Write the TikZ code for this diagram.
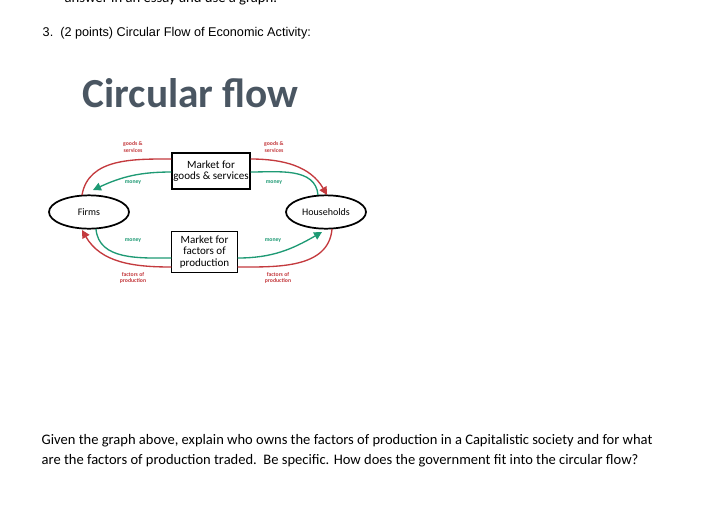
\documentclass[tikz,border=0pt]{standalone}
\usepackage{fontspec}
\setmainfont{Liberation Sans}
\newfontfamily\carl{Carlito}
\usetikzlibrary{shapes.geometric,arrows.meta}
\definecolor{cred}{HTML}{C43A3E}
\definecolor{cgreen}{HTML}{1E9A74}
\definecolor{ctitle}{HTML}{4A5662}
\begin{document}
\begin{tikzpicture}[x=0.75pt,y=-0.75pt,
  ell/.style={ellipse,draw,line width=1.3pt,minimum width=60pt,minimum height=25pt,inner sep=0pt,font=\carl\fontsize{7.5}{8}\selectfont},
  mbox/.style={draw,line width=0.8pt,align=center,inner sep=1pt,font=\carl\fontsize{8.3}{8.3}\selectfont},
  rl/.style={cred,line width=1pt},
  gl/.style={cgreen,line width=1pt},
  lab/.style={align=center,font=\carl\bfseries\fontsize{4.3}{4.6}\selectfont}]
\useasboundingbox (0,0) rectangle (712,504);
\clip (0,0) rectangle (712,504);
\fill[white] (0,0) rectangle (712,504);
\node[anchor=west,font=\carl\fontsize{11}{12}\selectfont] (top) at (60,-1) {answer in an essay and use a graph.};
\node[anchor=west,font=\fontsize{9.5}{11}\selectfont] (q) at (38,33) {3.\ \ (2 points) Circular Flow of Economic Activity:};
\node[anchor=west,font=\carl\bfseries\fontsize{31}{34}\selectfont,text=ctitle] (title) at (78,93) {Circular flow};
\node[ell] (firms) at (89,212) {Firms};
\node[ell] (hh) at (326,212) {Households};
\node[mbox,minimum width=58pt,minimum height=27pt] (mg) at (211,171) {Market for\\goods \& services};
\node[mbox,minimum width=49pt,minimum height=31pt] (mf) at (204.5,252) {Market for\\factors of\\production};
% top flows
\draw[rl] (mg.west|-0,159) to[out=180,in=80] (82,195);
\draw[rl,-{Triangle[width=6pt,length=6pt]}] (mg.east|-0,159) to[out=0,in=120] (327,195);
\draw[gl,-{Triangle[width=6pt,length=6pt]}] (mg.west|-0,172) to[out=180,in=25] (93,190);
\draw[gl] (mg.east|-0,172) to[out=0,in=95] (318,195);
% bottom flows
\draw[rl,-{Triangle[width=6pt,length=6pt]}] (mf.west|-0,267) to[out=180,in=-60] (82,230);
\draw[rl] (mf.east|-0,267) to[out=0,in=-95] (332,229);
\draw[gl] (96,229) to[out=-85,in=180] (mf.west|-0,258);
\draw[gl,-{Triangle[width=6pt,length=6pt]}] (mf.east|-0,258) to[out=0,in=-150] (322,232);
% labels
\node[lab,text=cred] (l1) at (133,147) {goods \&\\services};
\node[lab,text=cred] (l2) at (274,147) {goods \&\\services};
\node[lab,text=cgreen] (l3) at (133,183) {money};
\node[lab,text=cgreen] (l4) at (274,183) {money};
\node[lab,text=cgreen] (l5) at (133,241) {money};
\node[lab,text=cgreen] (l6) at (273,241) {money};
\node[lab,text=cred] (l7) at (133,278) {factors of\\production};
\node[lab,text=cred] (l8) at (278,278) {factors of\\production};
\node[anchor=north west,align=left,font=\carl\fontsize{10.9}{15}\selectfont] (txt) at (37,430) {Given the graph above, explain who owns the factors of production in a Capitalistic society and for what\\are the factors of production traded.\ \ Be specific. How does the government fit into the circular flow?};
\end{tikzpicture}
\end{document}
